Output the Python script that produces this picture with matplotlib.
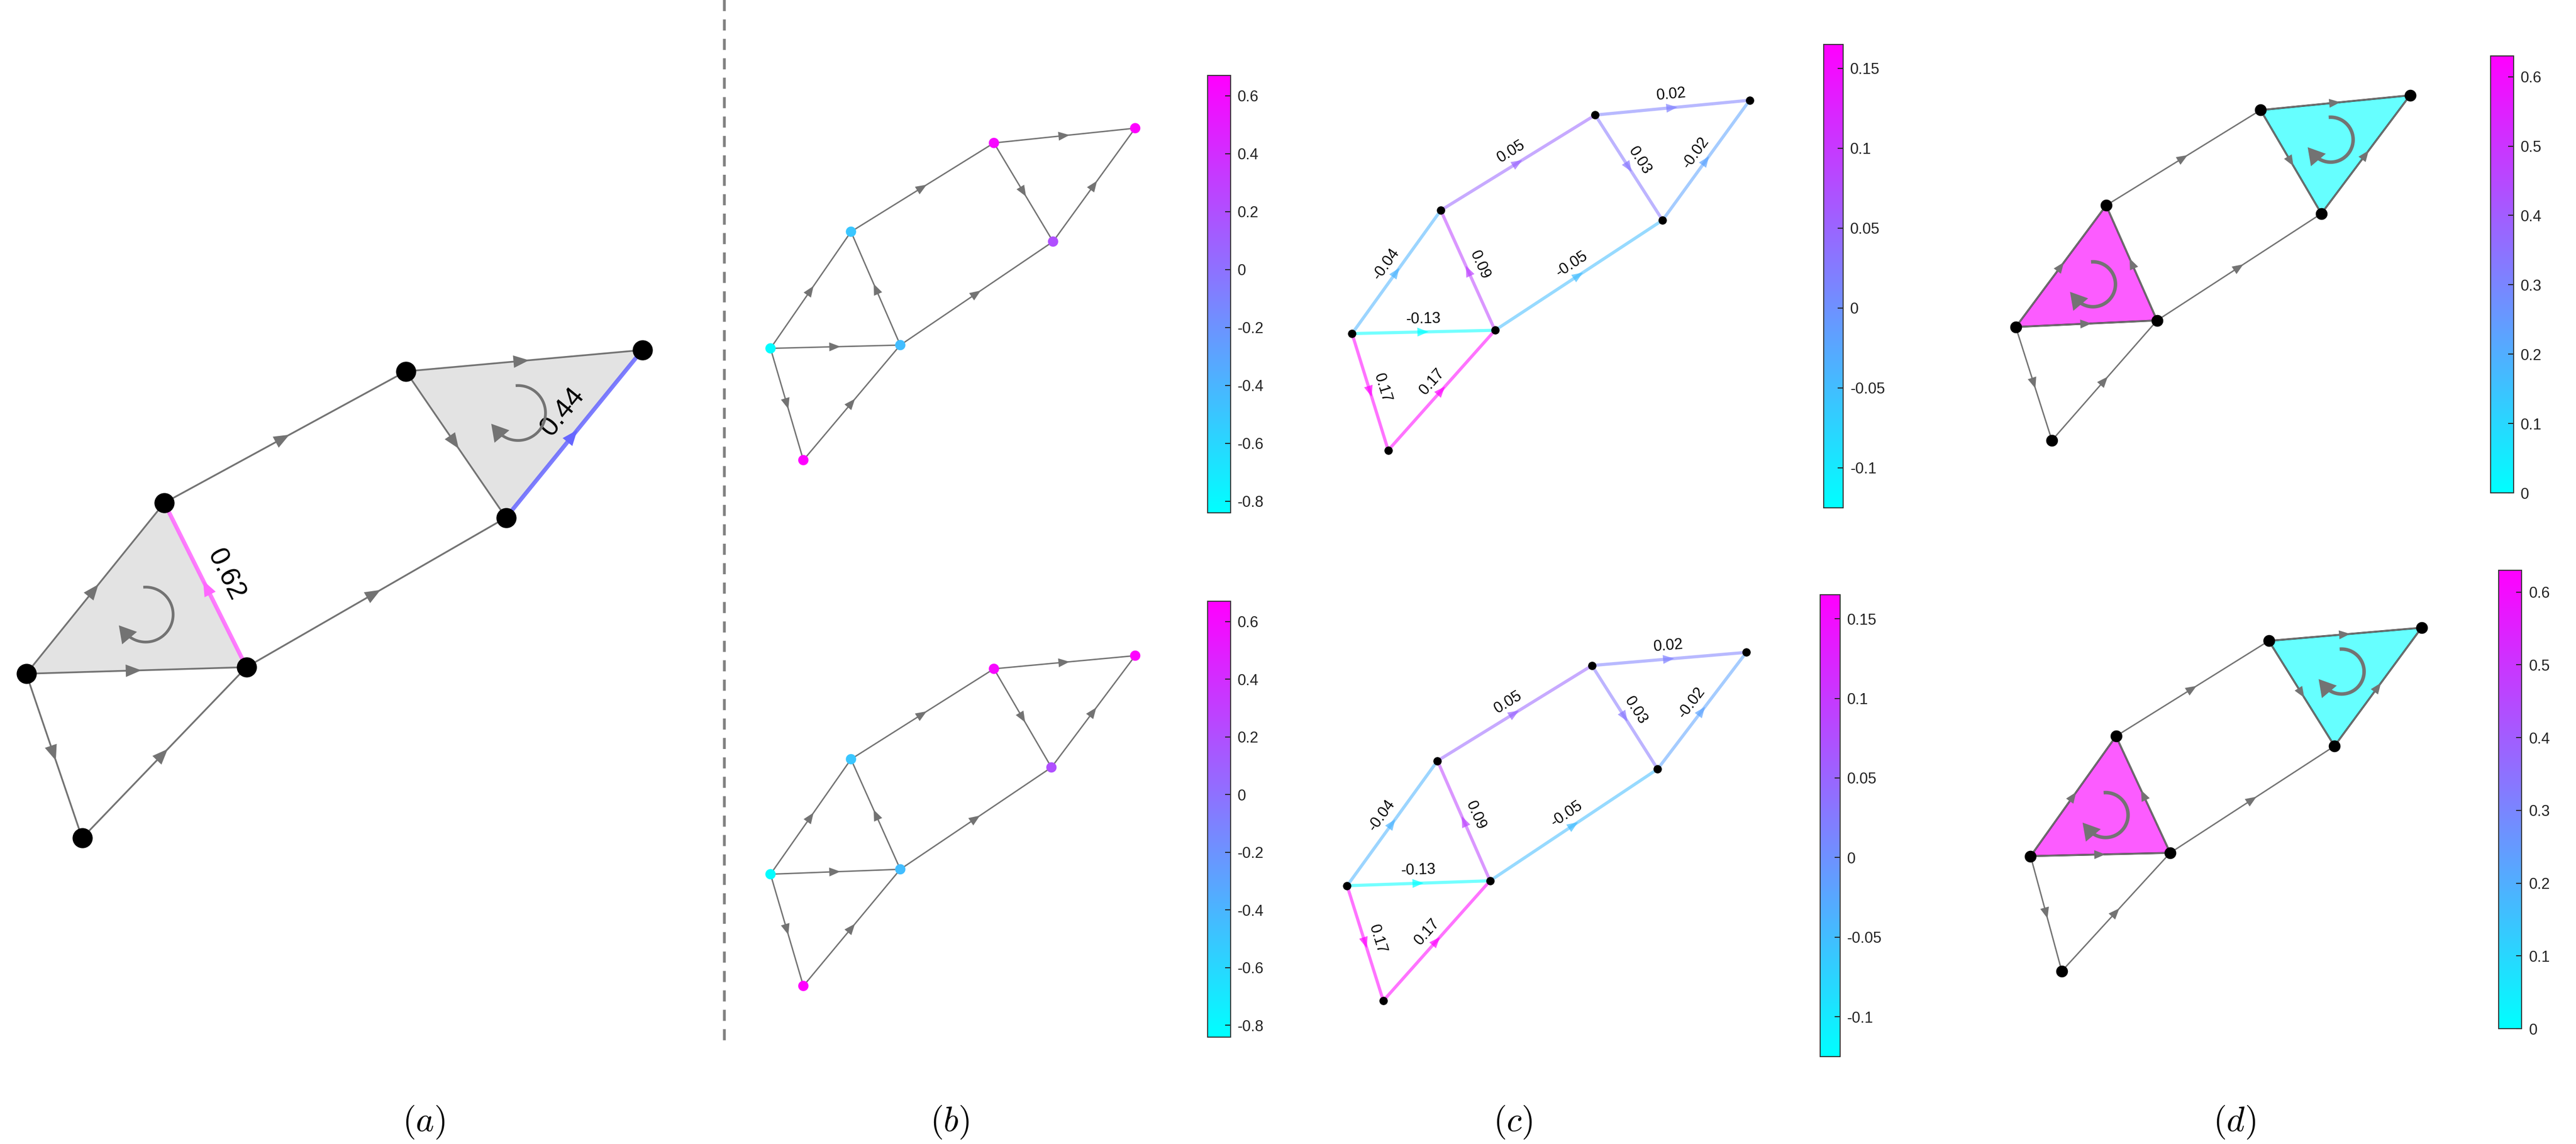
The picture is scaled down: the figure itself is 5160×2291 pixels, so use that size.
import numpy as np
import matplotlib
matplotlib.use("Agg")
import matplotlib.pyplot as plt
from matplotlib.colors import Normalize
from matplotlib.patches import Polygon

plt.rcParams["mathtext.fontset"] = "cm"

W, H = 5160, 2291
S = 5160 / 1568.0

# node layouts per panel (reference coords, reduced image)
nodes_a = [(16, 410), (100, 306), (150, 406), (50, 510), (247, 226), (391, 213), (308, 315)]
nodes_b1 = [(469, 212), (518, 141), (548, 210), (489, 280), (605, 87), (691, 78), (641, 147)]
nodes_b2 = [(469, 532), (518, 462), (548, 529), (489, 600), (605, 407), (691, 399), (640, 467)]
nodes_c1 = [(823, 203), (877, 128), (910, 201), (845, 274), (971, 70), (1065, 61), (1012, 134)]
nodes_c2 = [(820, 539), (875, 463), (907, 536), (842, 609), (969, 405), (1063, 397), (1009, 468)]
nodes_d1 = [(1227, 199), (1282, 125), (1313, 195), (1249, 268), (1376, 67), (1467, 58), (1413, 130)]
nodes_d2 = [(1236, 521), (1288, 448), (1321, 519), (1255, 591), (1381, 390), (1474, 382), (1421, 454)]

edges = [(0, 3), (3, 2), (0, 2), (0, 1), (2, 1), (1, 4), (2, 6), (4, 6), (4, 5), (6, 5)]
edge_flow = [0.17, 0.17, -0.13, -0.04, 0.09, 0.05, -0.05, 0.03, 0.02, -0.02]
edge_flow_labels = ["0.17", "0.17", "-0.13", "-0.04", "0.09", "0.05", "-0.05", "0.03", "0.02", "-0.02"]
node_values = [-0.82, -0.5, -0.45, 0.67, 0.62, 0.66, 0.2]
triangles = [(0, 2, 1), (4, 5, 6)]
tri_values = [0.62, 0.0]
edge_a_highlight = {4: (0.62, "0.62", "#ff66ff"), 9: (0.44, "0.44", "#6666ff")}

cmap = plt.get_cmap("cool")
norm_b = Normalize(-0.84, 0.67)
norm_c = Normalize(-0.125, 0.165)
norm_d = Normalize(0.0, 0.63)

fig = plt.figure(figsize=(W / 100, H / 100), dpi=100)
ax = fig.add_axes([0, 0, 1, 1])
ax.set_xlim(0, W)
ax.set_ylim(H, 0)
ax.axis("off")

GRAY = "#737373"


def P(nodes):
    return [(x * S, y * S) for x, y in nodes]


def angle(p, q):
    a = np.degrees(np.arctan2(-(q[1] - p[1]), q[0] - p[0]))
    if a > 90:
        a -= 180
    if a <= -90:
        a += 180
    return a


def arrowhead(p, q, color, scale, alpha=1.0):
    p, q = np.array(p), np.array(q)
    m = (p + q) / 2
    d = (q - p) / np.linalg.norm(q - p)
    ax.annotate("", xy=m + d * 10, xytext=m - d * 10,
                arrowprops=dict(arrowstyle="-|>,head_length=0.5,head_width=0.2", color=color, lw=0,
                                alpha=alpha, mutation_scale=scale, shrinkA=0, shrinkB=0))


def label(p, q, txt, size, off, shift=0.0):
    p, q = np.array(p), np.array(q)
    m = (p + q) / 2
    a = angle(p, q)
    r = np.radians(a)
    n = np.array([-np.sin(r), -np.cos(r)])  # up-normal in pixel coords
    t = np.array([np.cos(r), -np.sin(r)])
    pos = m + n * off + t * shift
    ax.text(pos[0], pos[1], txt, rotation=a, ha="center", va="center",
            rotation_mode="anchor", fontsize=size, family="Liberation Sans")


def curl(c, r, lw, ms):
    th_end = -140
    th = np.radians(np.linspace(95, th_end, 80))
    xs = c[0] + r * np.cos(th)
    ys = c[1] - r * np.sin(th)
    ax.plot(xs, ys, color=GRAY, lw=lw, solid_capstyle="butt", zorder=4)
    te = np.radians(th_end)
    tang = np.array([np.sin(te), np.cos(te)])
    end = np.array([xs[-1], ys[-1]])
    ax.annotate("", xy=end + tang * 18, xytext=end - tang * 2,
                arrowprops=dict(arrowstyle="-|>,head_length=0.6,head_width=0.35", color=GRAY, lw=0,
                                mutation_scale=ms, shrinkA=0, shrinkB=0), zorder=4)


# ---------- panel (a)
pa = P(nodes_a)
for t in triangles:
    ax.add_patch(Polygon([pa[i] for i in t], closed=True, fc="#e3e3e3", ec="none", zorder=1))
for k, (i, j) in enumerate(edges):
    if k in edge_a_highlight:
        v, txt, col = edge_a_highlight[k]
        ax.plot([pa[i][0], pa[j][0]], [pa[i][1], pa[j][1]], color=col, lw=6, alpha=0.85, zorder=2)
        arrowhead(pa[i], pa[j], col, 45)
        label(pa[i], pa[j], txt, 40, 45, 20 if k == 9 else 0)
    else:
        ax.plot([pa[i][0], pa[j][0]], [pa[i][1], pa[j][1]], color=GRAY, lw=2.5, zorder=2)
        arrowhead(pa[i], pa[j], GRAY, 45)
for t in triangles:
    c = np.mean([pa[i] for i in t], axis=0)
    curl(c, 55, 4, 40)
ax.plot([p[0] for p in pa], [p[1] for p in pa], "o", color="k", ms=28, zorder=5)

# ---------- panel (b)
for nodes in (nodes_b1, nodes_b2):
    pb = P(nodes)
    for (i, j) in edges:
        ax.plot([pb[i][0], pb[j][0]], [pb[i][1], pb[j][1]], color=GRAY, lw=2, zorder=2)
        arrowhead(pb[i], pb[j], GRAY, 32)
    ax.scatter([p[0] for p in pb], [p[1] for p in pb], c=node_values, cmap=cmap, norm=norm_b,
               s=220, zorder=5, edgecolors="none")

# ---------- panel (c)
for nodes in (nodes_c1, nodes_c2):
    pc = P(nodes)
    for k, (i, j) in enumerate(edges):
        col = cmap(norm_c(edge_flow[k]))
        ax.plot([pc[i][0], pc[j][0]], [pc[i][1], pc[j][1]], color=col, lw=4.5, alpha=0.55, zorder=2)
        arrowhead(pc[i], pc[j], col, 32, 0.7)
        label(pc[i], pc[j], edge_flow_labels[k], 22, 26)
    ax.plot([p[0] for p in pc], [p[1] for p in pc], "o", color="k", ms=11, zorder=5)

# ---------- panel (d)
for nodes in (nodes_d1, nodes_d2):
    pd_ = P(nodes)
    for t, v in zip(triangles, tri_values):
        ax.add_patch(Polygon([pd_[i] for i in t], closed=True, fc=cmap(norm_d(v)),
                             alpha=0.65 if v > 0.3 else 0.6, ec="none", zorder=1))
        ax.add_patch(Polygon([pd_[i] for i in t], closed=True, fc="none", ec="k", lw=2.5, zorder=2))
    for (i, j) in edges:
        ax.plot([pd_[i][0], pd_[j][0]], [pd_[i][1], pd_[j][1]], color=GRAY, lw=2, zorder=2)
        arrowhead(pd_[i], pd_[j], GRAY, 32)
    for t in triangles:
        c = np.mean([pd_[i] for i in t], axis=0)
        curl(c, 45, 5, 40)
    ax.plot([p[0] for p in pd_], [p[1] for p in pd_], "o", color="k", ms=16, zorder=5)

# dashed separator
ax.plot([441 * S, 441 * S], [0, 635 * S], ls=(0, (4, 3)), color="#808080", lw=4)

# panel labels
for x, t in [(258, "(a)"), (578, "(b)"), (921, "(c)"), (1360, "(d)")]:
    ax.text(x * S, 683 * S, "$" + t + "$", ha="center", va="center", fontsize=50)

# colorbars
def cbar(x0, x1, y0, y1, norm, ticks, labels):
    cax = fig.add_axes([x0 * S / W, 1 - y1 * S / H, (x1 - x0) * S / W, (y1 - y0) * S / H])
    cb = fig.colorbar(plt.cm.ScalarMappable(norm=norm, cmap=cmap), cax=cax)
    cb.set_ticks(ticks)
    cb.set_ticklabels(labels)
    cb.outline.set_edgecolor("#333333")
    cb.outline.set_linewidth(1.5)
    cax.tick_params(direction="in", length=8, width=1.5, labelsize=22, colors="#222222", pad=10)
    for t in cax.get_yticklabels():
        t.set_family("Liberation Sans")

b_ticks = [-0.8, -0.6, -0.4, -0.2, 0, 0.2, 0.4, 0.6]
b_lab = ["-0.8", "-0.6", "-0.4", "-0.2", "0", "0.2", "0.4", "0.6"]
c_ticks = [-0.1, -0.05, 0, 0.05, 0.1, 0.15]
c_lab = ["-0.1", "-0.05", "0", "0.05", "0.1", "0.15"]
d_ticks = [0, 0.1, 0.2, 0.3, 0.4, 0.5, 0.6]
d_lab = ["0", "0.1", "0.2", "0.3", "0.4", "0.5", "0.6"]
cbar(735, 749, 46, 312, norm_b, b_ticks, b_lab)
cbar(735, 749, 366, 631, norm_b, b_ticks, b_lab)
cbar(1110, 1122, 27, 309, norm_c, c_ticks, c_lab)
cbar(1108, 1120, 362, 643, norm_c, c_ticks, c_lab)
cbar(1516, 1530, 34, 300, norm_d, d_ticks, d_lab)
cbar(1521, 1535, 347, 626, norm_d, d_ticks, d_lab)

fig.savefig("out.png", dpi=100, facecolor="white")
